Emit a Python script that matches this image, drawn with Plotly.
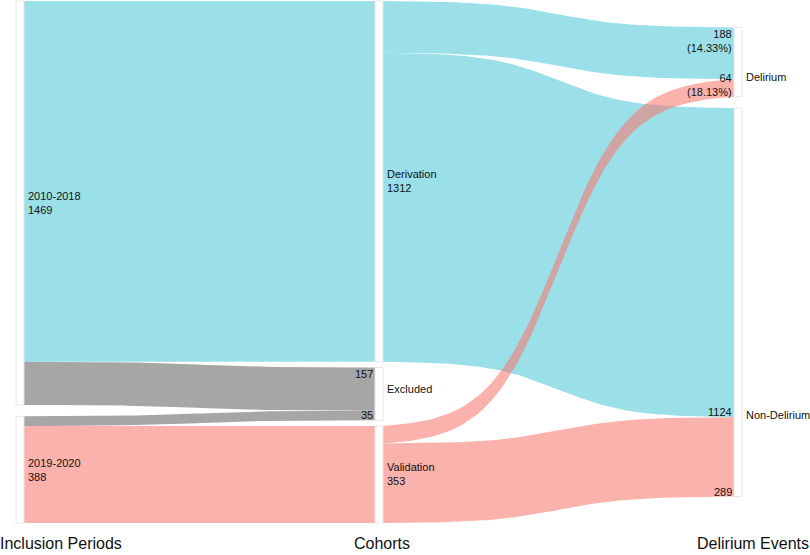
import numpy as np
import plotly.graph_objects as go

# ---------------- data ----------------
axis_titles = ["Inclusion Periods", "Cohorts", "Delirium Events"]
periods = ["2010-2018", "2019-2020"]
cohorts = ["Derivation", "Excluded", "Validation"]
events = ["Delirium", "Non-Delirium"]

# inclusion period -> cohort
flow1_src = ["2010-2018", "2010-2018", "2019-2020", "2019-2020"]
flow1_tgt = ["Derivation", "Excluded", "Excluded", "Validation"]
flow1_val = [1312, 157, 35, 353]

# cohort -> delirium event
flow2_src = ["Derivation", "Derivation", "Validation", "Validation"]
flow2_tgt = ["Delirium", "Non-Delirium", "Delirium", "Non-Delirium"]
flow2_val = [188, 1124, 64, 289]

# where the value label sits at the end of each flow
flow1_label_pos = [None, "top", "bottom", None]
flow2_label_pos = ["top", "bottom", "bottom", "bottom"]

cohort_colors = {
    "Derivation": "#9BE0E8",
    "Excluded": "#A6A6A6",
    "Validation": "rgba(248,118,109,0.57)",
}

# ---------------- geometry ----------------
W, H = 810, 555
columns = [periods, cohorts, events]
flows = []
for s, t, v in zip(flow1_src, flow1_tgt, flow1_val):
    flows.append(dict(src=s, tgt=t, val=v, step=0))
for s, t, v in zip(flow2_src, flow2_tgt, flow2_val):
    flows.append(dict(src=s, tgt=t, val=v, step=1))
for f, lp in zip(flows, flow1_label_pos + flow2_label_pos):
    f["lab"] = lp

col_of = {}
order = {}
for ci, col in enumerate(columns):
    for k, n in enumerate(col):
        col_of[n] = ci
        order[n] = k

node_val = {}
for n in col_of:
    out_v = sum(f["val"] for f in flows if f["src"] == n)
    in_v = sum(f["val"] for f in flows if f["tgt"] == n)
    node_val[n] = max(out_v, in_v)

GAP = 41.0  # total gap per column, in count units
col_tot = [sum(node_val[n] for n in col) + GAP for col in columns]
centre = max(col_tot) / 2.0
node_top, node_bot = {}, {}
for ci, col in enumerate(columns):
    g = GAP / (len(col) - 1)
    y = centre + col_tot[ci] / 2.0
    for n in col:
        node_top[n] = y
        node_bot[n] = y - node_val[n]
        y = node_bot[n] - g

# stacking of flows on nodes
out_cursor = dict(node_top)
in_cursor = dict(node_top)
for f in sorted(flows, key=lambda f: (order[f["src"]], order[f["tgt"]])):
    f["s_top"] = out_cursor[f["src"]]
    f["s_bot"] = f["s_top"] - f["val"]
    out_cursor[f["src"]] = f["s_bot"]
for f in sorted(flows, key=lambda f: (order[f["tgt"]], order[f["src"]])):
    f["t_top"] = in_cursor[f["tgt"]]
    f["t_bot"] = f["t_top"] - f["val"]
    in_cursor[f["tgt"]] = f["t_bot"]

# scales: px per unit
px_x = 359.0
px_y = 0.275
x_first_px = 20.0
x_range = [1 - x_first_px / px_x, 1 + (W - x_first_px) / px_x]
bottom_px = 523.0
y_range = [-(H - bottom_px) / px_y, bottom_px / px_y]
hw = 4.0 / px_x  # half node width

def curve(t):
    k = 10.0
    L = 1 / (1 + np.exp(-k * (t - 0.5)))
    L0 = 1 / (1 + np.exp(k * 0.5))
    L1 = 1 / (1 + np.exp(-k * 0.5))
    return (L - L0) / (L1 - L0)

fig = go.Figure()
draw_order = ["Derivation", "Excluded", "Validation"]
tt = np.linspace(0, 1, 120)
for coh in draw_order:
    for f in flows:
        cohort = f["tgt"] if f["step"] == 0 else f["src"]
        if cohort != coh:
            continue
        x0 = f["step"] + 1 + hw
        x1 = f["step"] + 2 - hw
        xs = x0 + (x1 - x0) * tt
        ytop = f["s_top"] + (f["t_top"] - f["s_top"]) * curve(tt)
        ybot = f["s_bot"] + (f["t_bot"] - f["s_bot"]) * curve(tt)
        X = np.concatenate([xs, xs[::-1]])
        Y = np.concatenate([ytop, ybot[::-1]])
        fig.add_trace(go.Scatter(
            x=X, y=Y, mode="lines", fill="toself",
            fillcolor=cohort_colors[coh], line=dict(width=0),
            hoverinfo="skip", showlegend=False))

shapes = []
for n in col_of:
    c = col_of[n] + 1
    shapes.append(dict(type="rect", xref="x", yref="y",
                       x0=c - hw, x1=c + hw, y0=node_bot[n], y1=node_top[n],
                       fillcolor="white", line=dict(color="#E6E6E6", width=1),
                       layer="above"))

FONT = "Liberation Sans, Arial, sans-serif"
ann = []
# node labels
for n in col_of:
    ci = col_of[n]
    c = ci + 1
    ysh = 0
    if ci == 2:
        inc = sorted([f for f in flows if f["tgt"] == n], key=lambda f: order[f["src"]])
        ylab = inc[0]["t_bot"]
        text = n
        ysh = 2
    else:
        ylab = (node_top[n] + node_bot[n]) / 2
        text = n if n == "Excluded" else f"{n}<br>{node_val[n]}"
        if n == "Excluded":
            ysh = 5
    ann.append(dict(x=c + hw + 1.5 / px_x, y=ylab, xref="x", yref="y",
                    text=text, showarrow=False, xanchor="left", yanchor="middle",
                    yshift=ysh, align="left",
                    font=dict(family=FONT, size=11, color="#111")))

# flow end labels
for f in flows:
    if f["lab"] is None:
        continue
    c = f["step"] + 2
    if f["step"] == 1:
        pct = 100.0 * f["val"] / node_val[f["src"]]
        text = f"{f['val']}" + (f"<br>({pct:.2f}%)" if order[f["tgt"]] == 0 else "")
    else:
        text = f"{f['val']}"
    if f["lab"] == "top":
        y, ya, ysh = f["t_top"], "top", 1
    else:
        y, ya, ysh = f["t_bot"], "bottom", -3
    ann.append(dict(x=c - hw, y=y, xref="x", yref="y", text=text,
                    showarrow=False, xanchor="right", yanchor=ya, yshift=ysh,
                    align="right", font=dict(family=FONT, size=11, color="#111")))

# column titles
ybot_paper = 1 - 543.0 / H
ann.append(dict(x=0, y=ybot_paper, xref="paper", yref="paper", text=axis_titles[0],
                showarrow=False, xanchor="left", yanchor="middle", xshift=-2,
                font=dict(family=FONT, size=16, color="#111")))
ann.append(dict(x=2, y=ybot_paper, xref="x", yref="paper", text=axis_titles[1],
                showarrow=False, xanchor="center", yanchor="middle", xshift=3,
                font=dict(family=FONT, size=16, color="#111")))
ann.append(dict(x=1, y=ybot_paper, xref="paper", yref="paper", text=axis_titles[2],
                showarrow=False, xanchor="right", yanchor="middle", xshift=1,
                font=dict(family=FONT, size=16, color="#111")))

fig.update_layout(
    width=W, height=H,
    margin=dict(l=0, r=0, t=0, b=0),
    paper_bgcolor="white", plot_bgcolor="white",
    xaxis=dict(range=x_range, visible=False, fixedrange=True),
    yaxis=dict(range=y_range, visible=False, fixedrange=True),
    shapes=shapes, annotations=ann, showlegend=False,
)
fig.write_html(
    "out.html",
    config={"displayModeBar": False},
    post_script="document.body.style.margin='0';document.body.style.overflow='hidden';",
)
